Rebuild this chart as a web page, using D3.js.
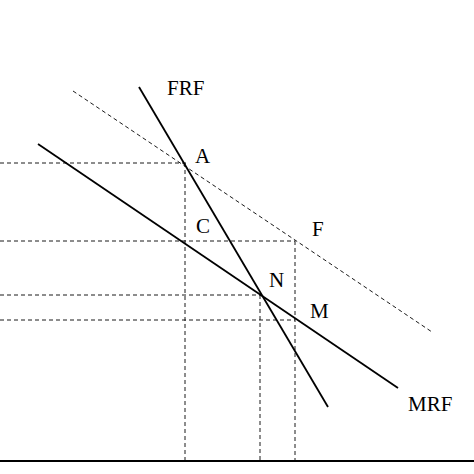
<!DOCTYPE html>
<html>
<head>
<meta charset="utf-8">
<script src="https://cdn.jsdelivr.net/npm/d3@7"></script>
<style>
  body { margin: 0; background: #fff; }
  text { font-family: "Liberation Serif", "Times New Roman", serif; font-size: 21px; fill: #000; }
</style>
</head>
<body>
<svg></svg>
<script>
var width = 474;
var height = 474;

// diagram coordinates (x to the right, y upward, 0..474)
var solidLines = [
  { name: "FRF", pts: [[139, 387], [328, 67]] },
  { name: "MRF", pts: [[38, 330], [398, 86]] }
];
var dashedSlope = [[73, 383], [432, 142]];

// guide lines: A, C/F, N, M levels
var hGuides = [[0, 186, 311], [0, 295, 233], [0, 262, 179], [0, 295, 154]];
var vGuides = [[185, 311, 13], [260, 179, 13], [295, 233, 13]];

var labels = [
  { t: "FRF", x: 167, y: 379 },
  { t: "A", x: 195, y: 311 },
  { t: "C", x: 196, y: 241 },
  { t: "F", x: 312, y: 238 },
  { t: "N", x: 269, y: 187 },
  { t: "M", x: 310, y: 156 },
  { t: "MRF", x: 408, y: 63 }
];

var x = d3.scaleLinear().domain([0, 474]).range([0, width]);
var y = d3.scaleLinear().domain([0, 474]).range([height, 0]);

var svg = d3.select("svg").attr("width", width).attr("height", height);
var line = d3.line().x((d) => x(d[0])).y((d) => y(d[1]));

svg.selectAll(".h").data(hGuides).enter().append("line")
  .attr("x1", (d) => x(d[0])).attr("x2", (d) => x(d[1]))
  .attr("y1", (d) => y(d[2])).attr("y2", (d) => y(d[2]))
  .attr("stroke", "#000").attr("stroke-width", 0.9).attr("stroke-dasharray", "4,3");

svg.selectAll(".v").data(vGuides).enter().append("line")
  .attr("x1", (d) => x(d[0])).attr("x2", (d) => x(d[0]))
  .attr("y1", (d) => y(d[1])).attr("y2", (d) => y(d[2]))
  .attr("stroke", "#000").attr("stroke-width", 0.9).attr("stroke-dasharray", "4,3");

svg.append("path").attr("d", line(dashedSlope))
  .attr("fill", "none").attr("stroke", "#000").attr("stroke-width", 0.9).attr("stroke-dasharray", "4,3");

svg.selectAll(".s").data(solidLines).enter().append("path")
  .attr("d", (d) => line(d.pts))
  .attr("fill", "none").attr("stroke", "#000").attr("stroke-width", 1.8);

// horizontal axis
svg.append("line").attr("x1", 0).attr("x2", width)
  .attr("y1", y(13)).attr("y2", y(13))
  .attr("stroke", "#000").attr("stroke-width", 1.8);

svg.selectAll(".lab").data(labels).enter().append("text")
  .attr("x", (d) => x(d.x)).attr("y", (d) => y(d.y)).text((d) => d.t);
</script>
</body>
</html>
